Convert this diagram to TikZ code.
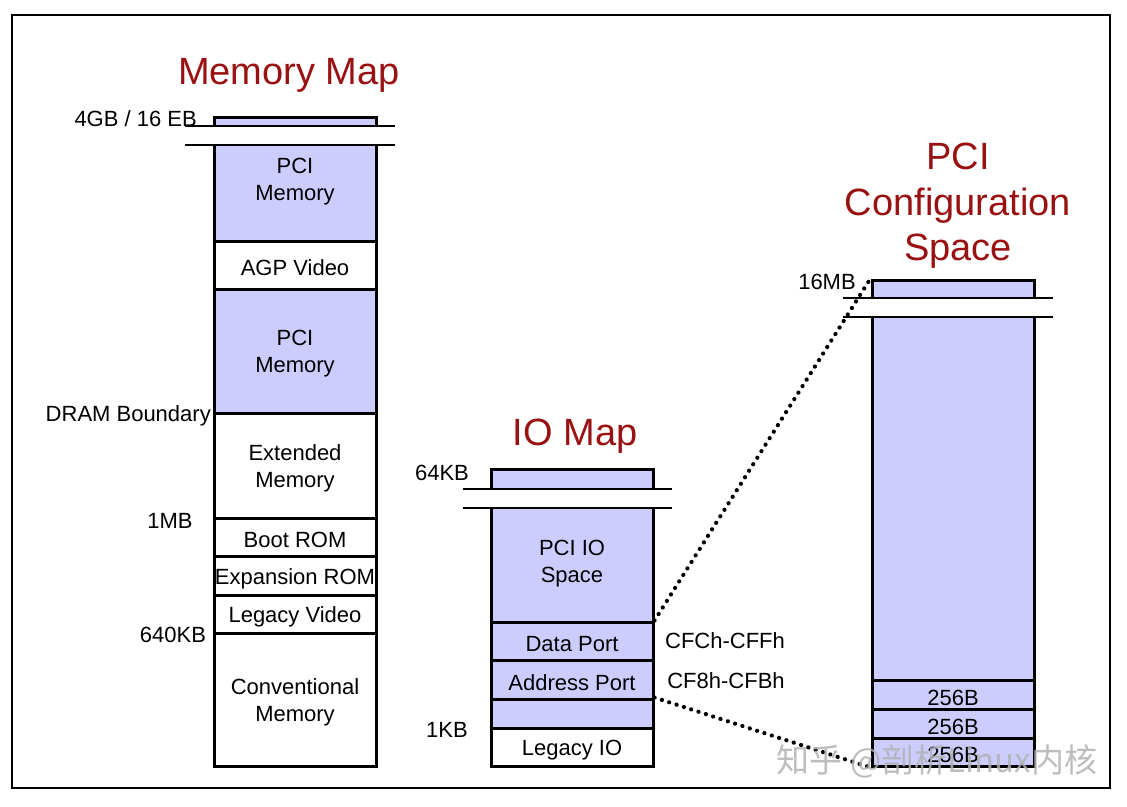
\documentclass[tikz,border=0pt]{standalone}
\usepackage{fontspec}
\setmainfont{Liberation Sans}
\newfontfamily\cjk{Noto Sans CJK SC}
\definecolor{lav}{RGB}{204,204,255}
\definecolor{titlered}{RGB}{153,17,17}
\tikzset{
  seg/.style={draw, line width=3pt, inner sep=0pt},
  pcifill/.style={seg, fill=lav},
  plain/.style={seg, fill=white},
  segtext/.style={inner sep=0pt, align=center, font=\fontsize{22}{27}\selectfont},
  lbl/.style={inner sep=0pt, font=\fontsize{22}{27}\selectfont, text height=16pt, text depth=0pt},
  ttl/.style={inner sep=0pt, align=center, text=titlered, font=\fontsize{38}{45.5}\selectfont},
  brk/.style={line width=1.5pt},
  dotline/.style={line width=4.2pt, line cap=round, dash pattern=on 0.1pt off 7.6pt},
}
% #1 name, #2 style, #3 x1, #4 y1, #5 x2, #6 y2, #7 text
\newcommand\segbox[7]{%
  \node[#2, minimum width={(#5-#3)*1pt}, minimum height={(#6-#4)*1pt}] (#1) at ({(#3+#5)/2},{(#4+#6)/2}) {};
  \node[segtext] (#1t) at ([yshift=-3pt]#1.center) {#7};}
\begin{document}
\begin{tikzpicture}[x=1pt,y=-1pt]
\useasboundingbox (0,0) rectangle (1127,806);
% frame
\draw[line width=2pt] (12,15) rectangle (1110,788);

% ---------- Memory map ----------
\node[ttl] (tmem) at (289,75) {Memory Map};
\segbox{mpci1}{pcifill}{214}{117}{376}{241}{PCI\\Memory}
\segbox{magp}{plain}{214}{241}{376}{289}{AGP Video}
\segbox{mpci2}{pcifill}{214}{289}{376}{413}{PCI\\Memory}
\segbox{mext}{plain}{214}{413}{376}{518}{Extended\\Memory}
\segbox{mboot}{plain}{214}{518}{376}{556}{Boot ROM}
\segbox{mexp}{plain}{214}{556}{376}{595}{Expansion ROM}
\segbox{mlegv}{plain}{214}{595}{376}{633}{Legacy Video}
\segbox{mconv}{plain}{214}{633}{376}{766}{Conventional\\Memory}
\fill[white] (205,127) rectangle (386,144);
\draw[brk] (185,126) -- (395,126);
\draw[brk] (185,145) -- (395,145);
\node[lbl, anchor=east] (l4gb) at (197,118) {4GB / 16 EB};
\node[lbl, anchor=east] (ldram) at (211,413) {DRAM Boundary};
\node[lbl] (l1mb) at (170,520) {1MB};
\node[lbl] (l640) at (173,634) {640KB};

% ---------- IO map ----------
\node[ttl] (tio) at (575,436) {IO Map};
\segbox{iocap}{pcifill}{491}{469}{653}{500}{}
\segbox{iopci}{pcifill}{491}{500}{653}{622}{PCI IO\\Space}
\segbox{iodata}{pcifill}{491}{622}{653}{660}{Data Port}
\segbox{ioaddr}{pcifill}{491}{660}{653}{699}{Address Port}
\segbox{ioblank}{pcifill}{491}{699}{653}{728}{}
\segbox{ioleg}{plain}{491}{728}{653}{766}{Legacy IO}
\fill[white] (482,490) rectangle (662,507);
\draw[brk] (463,489) -- (672,489);
\draw[brk] (463,508) -- (672,508);
\node[lbl] (l64kb) at (442,472) {64KB};
\node[lbl] (l1kb) at (447,729) {1KB};
\node[lbl] (lcfc) at (725,640) {CFCh-CFFh};
\node[lbl] (lcf8) at (726,680) {CF8h-CFBh};

% ---------- PCI configuration space ----------
\node[ttl] (tcfg) at (958,206) {PCI\\Configuration\\Space};
\segbox{cfgtop}{pcifill}{872}{280}{1034}{680}{}
\segbox{cfgb1}{pcifill}{872}{680}{1034}{709}{256B}
\segbox{cfgb2}{pcifill}{872}{709}{1034}{738}{256B}
\segbox{cfgb3}{pcifill}{872}{738}{1034}{766}{256B}
\fill[white] (863,299) rectangle (1043,316);
\draw[brk] (843,298) -- (1053,298);
\draw[brk] (843,317) -- (1053,317);
\node[lbl] (l16mb) at (827,281) {16MB};

% ---------- connectors ----------
\draw[dotline] (iodata.north east) -- (cfgtop.north west);
\draw[dotline] (ioblank.north east) -- (cfgb3.south west);

% watermark
\node[inner sep=0pt, text=black!30, opacity=0.85, font=\cjk\fontsize{33}{33}\selectfont] (wm) at (937,761) {知乎 @剖析Linux内核};
\end{tikzpicture}
\end{document}
